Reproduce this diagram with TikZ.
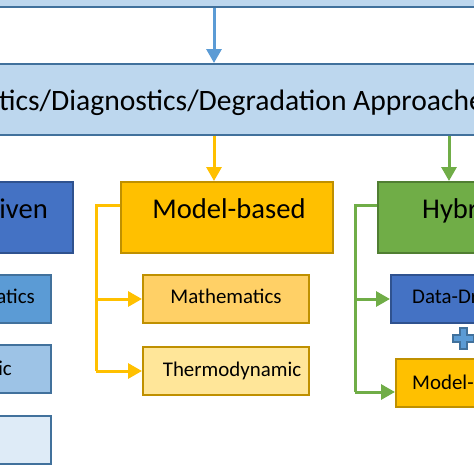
\documentclass[tikz,border=0pt]{standalone}
\usepackage{fontspec}
\setmainfont{Carlito}
\usetikzlibrary{arrows.meta,fit}
\definecolor{lblue}{HTML}{BDD7EE}
\definecolor{bborder}{HTML}{41719C}
\definecolor{bmid}{HTML}{5B9BD5}
\definecolor{bdark}{HTML}{4472C4}
\definecolor{bdarkb}{HTML}{2F528F}
\definecolor{blight}{HTML}{9DC3E6}
\definecolor{bvlight}{HTML}{DEEBF7}
\definecolor{ygold}{HTML}{FFC000}
\definecolor{yborder}{HTML}{BF9000}
\definecolor{ymid}{HTML}{FFD066}
\definecolor{ylight}{HTML}{FFE699}
\definecolor{ggreen}{HTML}{70AD47}
\definecolor{gborder}{HTML}{507E32}
\tikzset{
  boxstyle/.style={inner sep=0pt, line width=2pt},
  bigtext/.style={inner sep=0pt, font=\fontsize{28.6}{30}\selectfont, text=black},
  smalltext/.style={inner sep=0pt, font=\fontsize{20.9}{24}\selectfont, text=black},
  conn/.style={line width=3pt},
  tip/.style={-{Triangle[length=14pt,width=15pt]}},
}
\begin{document}
\begin{tikzpicture}[x=1pt,y=-1pt]
\useasboundingbox (0,0) rectangle (474,474);
\clip (0,0) rectangle (474,474);
\fill[white] (0,0) rectangle (474,474);
% top box and main box
\node[boxstyle, draw=bborder, fill=lblue, fit={(-20,-30) (494,7)}] (top) {};
\node[boxstyle, draw=bborder, fill=lblue, fit={(-20,64) (494,135)}] (main) {};
\node[anchor=base west, inner sep=0pt, font=\fontsize{29.6}{31}\selectfont] (maintxt) at (-1,110) {\llap{Progno s}tics/Diagnostics/Degradation Approaches};
% data-driven column
\node[boxstyle, draw=bdarkb, fill=bdark, fit={(-20,182) (73,253)}] (dd) {};
\node[bigtext, anchor=base east] (ddtxt) at (48,218) {Data-Driven};
\node[boxstyle, draw=bborder, fill=bmid, fit={(-20,275) (51,323)}] (dda) {};
\node[smalltext, anchor=base east] (ddatxt) at (35,303) {Informatics};
\node[boxstyle, draw=bborder, fill=blight, fit={(-20,345) (51,393)}] (ddb) {};
\node[smalltext, anchor=base east] (ddbtxt) at (12,375) {Stochastic};
\node[boxstyle, draw=bborder, fill=bvlight, fit={(-20,416) (51,464)}] (ddc) {};
% model-based column
\node[boxstyle, draw=yborder, fill=ygold, fit={(121,182) (333,253)}] (mb) {};
\node[bigtext, anchor=base] (mbtxt) at (229,218) {Model-based};
\node[boxstyle, draw=yborder, fill=ymid, fit={(143,275) (309,323)}] (math) {};
\node[smalltext, anchor=base] (mathtxt) at (226,303) {Mathematics};
\node[boxstyle, draw=yborder, fill=ylight, fit={(143,347) (309,395)}] (thermo) {};
\node[smalltext, anchor=base] (thermotxt) at (232,376) {Thermodynamic};
% hybrid column
\node[boxstyle, draw=gborder, fill=ggreen, fit={(378,182) (600,253)}] (hy) {};
\node[bigtext, anchor=base west] (hytxt) at (422,218) {Hybrid};
\node[boxstyle, draw=bdarkb, fill=bdark, fit={(391,275) (600,323)}] (hdd) {};
\node[smalltext, anchor=base west] (hddtxt) at (412,303) {Data-Driven};
\node[boxstyle, draw=yborder, fill=ygold, fit={(396,359) (600,407)}] (hmb) {};
\node[smalltext, anchor=base west] (hmbtxt) at (412,389) {Model-based};
% plus sign
\filldraw[fill=bmid, draw=bborder, line width=1.2pt]
  (460,328) -- (467,328) -- (467,335) -- (474,335) -- (474,342) -- (467,342) -- (467,349) -- (460,349) -- (460,342) -- (453,342) -- (453,335) -- (460,335) -- cycle;
% vertical arrows
\coordinate (b1) at (214,0);
\coordinate (g1) at (449,0);
\draw[conn, tip, draw=bmid] (top.south -| b1) -- (main.north -| b1);
\draw[conn, tip, draw=ygold] (main.south -| b1) -- (mb.north -| b1);
\draw[conn, tip, draw=ggreen] (main.south -| g1) -- (hy.north -| g1);
% model-based branches
\coordinate (ya) at (96,205);
\draw[conn, draw=ygold] (mb.west |- ya) -- (ya) -- (ya |- thermo.west);
\draw[conn, tip, draw=ygold] (ya |- math.west) -- (math.west);
\draw[conn, tip, draw=ygold] (ya |- thermo.west) -- (thermo.west);
% hybrid branches
\coordinate (ga) at (355,205);
\coordinate (gb) at (355,392);
\draw[conn, draw=ggreen] (hy.west |- ga) -- (ga) -- (gb);
\draw[conn, tip, draw=ggreen] (ga |- hdd.west) -- (hdd.west);
\draw[conn, tip, draw=ggreen] (gb) -- (hmb.west |- gb);
\end{tikzpicture}
\end{document}
